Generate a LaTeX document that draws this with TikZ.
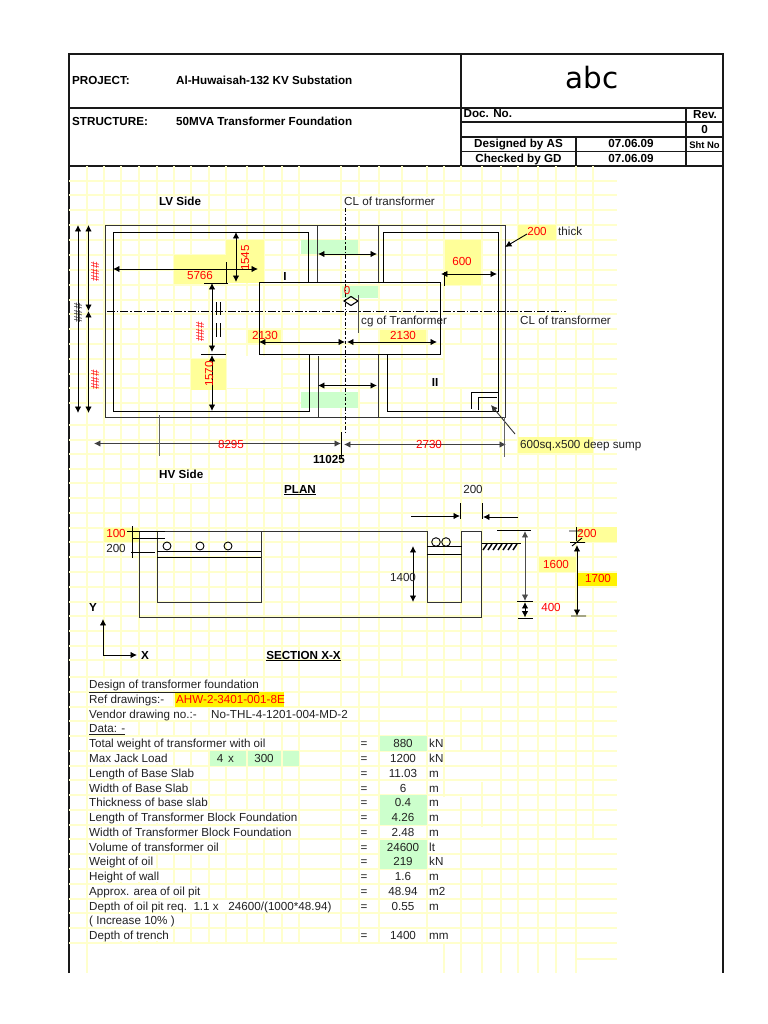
\documentclass[tikz,border=0pt]{standalone}
\usepackage{fontspec}
\setmainfont{Liberation Sans}
\usetikzlibrary{arrows.meta}
\newcommand{\fs}{\fontsize{11.7}{13}\selectfont}
\definecolor{gridy}{HTML}{FFFFCC}
\definecolor{ylw}{HTML}{FFFF99}
\definecolor{grn}{HTML}{CCFFCC}
\definecolor{txt}{HTML}{222222}
\tikzset{
 frame/.style={line width=1.4pt,draw=black!90},
 gridline/.style={line width=1.3pt,draw=gridy},
 wall/.style={line width=1pt,draw=black!80},
 thin wall/.style={line width=.9pt,draw=black},
 dim/.style={line width=.9pt,draw=black,{Latex[length=6.5pt,width=6.5pt]}-{Latex[length=6.5pt,width=6.5pt]}},
 dimend/.style={line width=.9pt,draw=black,-{Latex[length=6.5pt,width=6.5pt]}},
 tick/.style={line width=.9pt,draw=black},
 base/.style={inner sep=0pt,text height=8bp,text depth=0pt},
 t/.style={base,font=\fs,text=txt,anchor=west},
 tw/.style={t,fill=white,inner ysep=2bp},
 c/.style={base,font=\fs,text=txt},
 b/.style={base,font=\fs\bfseries,text=black},
 r/.style={base,font=\fs,text=red},
 hd/.style={base,font=\fs\bfseries,text=black,anchor=west},
}
\begin{document}
\begin{tikzpicture}[x=1bp,y=-1bp]
\useasboundingbox (0,0) rectangle (768,1024);
\fill[white] (0,0) rectangle (768,1024);
% frame
\draw[frame] (69,973) -- (69,54) -- (723,54) -- (723,973);
\draw[frame] (69,108) -- (723,108);
\draw[frame] (69,166) -- (723,166);
\draw[frame] (461,54) -- (461,166);
\draw[frame] (461,122) -- (723,122);
\draw[frame] (461,137) -- (723,137);
\draw[frame] (461,151.5) -- (723,151.5);
\draw[frame] (686,108) -- (686,166);
\draw[frame] (576,137) -- (576,166);
% grid upper
\foreach \x in {87,104,121,139,157,174,191,209,226,247,264,282,299,341,359,379,402,427,444,461,482,501,518,538,556,576,593}
 \draw[gridline] (\x,166) -- (\x,640);
\foreach \y in {181,195,210,225,240,255,270,285,300,314,329,344,359,374,388,403,425,440,454,469,483,498,513,528,542,557,572,587,602,616,631}
 \draw[gridline] (69,\y) -- (617,\y);
% grid lower
\foreach \x in {104,121,139,157,174,191,209,226,247,264,282,299,341,359,379,427}
 \draw[gridline] (\x,640) -- (\x,943);
\foreach \x in {87,501,518,538,556,576}
 \draw[gridline] (\x,640) -- (\x,973);
\draw[gridline] (402,640) -- (402,678);
\draw[gridline] (444,640) -- (444,797) (444,943) -- (444,973);
\draw[gridline] (461,640) -- (461,660) (461,680) -- (461,693) (461,708) -- (461,750) (461,797) -- (461,973);
\draw[gridline] (482,640) -- (482,693) (482,707) -- (482,750) (482,782) -- (482,827) (482,870) -- (482,973);
\draw[gridline] (593,640) -- (593,840);
\foreach \y in {646,660,677,692,707,721,736,751,766,780,795,810,825,839,854,869,884,899,913,928,943}
 \draw[gridline] (69,\y) -- (617,\y);
\draw[gridline] (576,959) -- (617,959);
% cells without grid
\foreach \a/\b/\c/\d in {158/196.5/208/209,342/196.5/440/209,360/315/448/328,519/315/612/328,158/470/208/482.5,227/356/281/388,445/345/481/387,192/241/225/254}
 \fill[white] (\a,\b) rectangle (\c,\d);
\foreach \a/\b/\c/\d in {174/255/226/284,226/240/264/283,445/240/481/285,191/359/226/390,248/330/281/343,380/330/426/343,518/225/556/240,518/437/593/453,539/557/576/572,577/527/617/542,104/528/139/542}
 \fill[ylw] (\a,\b) rectangle (\c,\d);
\fill[yellow] (578,573) rectangle (617,586);
\fill[yellow] (175,692) rectangle (284,707);
\foreach \a/\b/\c/\d in {301/240/358/254,301/392/358/408,342/286/378/298,380/736/427/751,210/751/246/766,248/751/281/766,283/751/299/766,380/795/427/810,380/810/427/825,380/840/427/854,380/854/427/869}
 \fill[grn] (\a,\b) rectangle (\c,\d);
% plan
\draw[wall] (105,225) rectangle (505,417);
\draw[thin wall] (113,411) -- (113,232) -- (308,232) -- (308,282);
\draw[thin wall] (309,354) -- (309,411) -- (113,411);
\draw[wall] (317,225) -- (317,282) (318,356) -- (318,417);
\draw[wall] (378,225) -- (378,282) (378,354) -- (378,417);
\draw[thin wall] (383,282) -- (383,232) -- (498,232) -- (498,411) -- (387,411) -- (387,354);
\draw[thin wall] (259,282) rectangle (440.5,354.5);
% sump
\draw[tick] (471,409) -- (471,392) -- (498,392);
\draw[tick] (478.5,410) -- (478.5,397) -- (497,397);
% centre lines
\draw[line width=.8pt,dash pattern=on 8pt off 2pt on 1.5pt off 2pt] (107,311.5) -- (566,311.5);
\draw[line width=.8pt,dash pattern=on 4pt off 2pt on 1.5pt off 2pt] (345.5,208) -- (345.5,432);
% left dims
\draw[dim] (78,225) -- (78,413);
\draw[dim] (88.5,225) -- (88.5,311);
\draw[dim] (88.5,311) -- (88.5,413);
% interior dims
\draw[dim] (113,269) -- (258,269);
\draw[tick] (226,262) -- (226,283);
\draw[dim] (236,232) -- (236,282);
\draw[dim] (318,254) -- (377,254);
\draw[dim] (318,385.5) -- (377,385.5);
\draw[dim] (441,274) -- (497,274);
\draw[tick] (444,272) -- (444,286);
\draw[dimend] (527,234) -- (505,247);
\draw[tick] (204,283) -- (228,283) (201,354.5) -- (226,354.5);
\draw[dim] (212,283) -- (212,352);
\draw[dim] (212,355) -- (212,411);
\draw[tick] (216,302) -- (216,315) (220,302) -- (220,315) (216,323) -- (216,337) (220,323) -- (220,337);
\draw[dim] (259,342) -- (345,342);
\draw[dim] (347,342) -- (437,342);
\draw[line width=1.1pt] (351,296.5) -- (358,301) -- (351,305.5) -- (344,301) -- cycle;
\draw[line width=1pt,draw=black!70] (358,295) -- (358,333);
\draw[dimend,draw=black!80] (515,434) -- (491,405);
% bottom dims
\draw[dim,draw=black!75] (94,443.5) -- (341,443.5);
\draw[dim,draw=black!75] (344,444.5) -- (506,444.5);
\draw[tick,draw=black!60] (159,415) -- (159,456);
\draw[tick] (341.7,432) -- (341.7,458);
\draw[tick,draw=black!60] (504,417) -- (504,457);
% section
\draw[wall] (139,531.5) -- (139,617.5) -- (481.7,617.5) -- (481.7,531.5) -- (461.7,531.5) -- (461.7,602.7) -- (427,602.7) -- (427,531.5) -- cycle;
\draw[wall] (157,531.5) -- (157,602.5) -- (261,602.5) -- (261,531.5);
\draw[tick] (157,551.5) -- (261,551.5) (157,557) -- (261,557);
\draw[tick] (427,546.5) -- (461.7,546.5) (427,554) -- (461.7,554);
\foreach \x in {167,200,228} \draw[tick] (\x,546) circle (4);
\foreach \x in {436,446} \draw[tick] (\x,542) circle (4.3);
\foreach \x in {483,488,...,513} \draw[line width=1.5pt] (\x,550) -- (\x+4,544);
\draw[tick] (482,543.5) -- (521,543.5);
\draw[tick] (460.7,503) -- (460.7,519) (482,503) -- (482,519);
\draw[dimend] (411,516) -- (460,516);
\draw[dimend] (518,517) -- (483,517);
\draw[dim] (413,546) -- (413,602);
\draw[tick] (497,530.5) -- (531,530.5) (517,601.5) -- (533,601.5) (518,618) -- (533,618);
\draw[dim,draw=black!70] (525,531) -- (525,601);
\draw[dim] (525,602) -- (525,617.5);
\draw[tick] (569,531) -- (582,531) (570,542.5) -- (585,542.5) (571,616) -- (586,616) (572,546) -- (582,538);
\draw[tick] (576,527) -- (576,541);
\draw[dim] (577,545) -- (577,616);
\draw[tick] (132,526) -- (132,558) (127,531.5) -- (165,531.5) (133,538) -- (165,538) (131,552) -- (155,552);
\draw[dim] (103,619) -- (103,655) -- (137,655);
% header text
\node[hd] (proj) at (72,80.5) {PROJECT:};
\node[hd] (projv) at (176,80.5) {Al-Huwaisah-132 KV Substation};
\node[hd] (str) at (72,121.5) {STRUCTURE:};
\node[hd] (strv) at (176,121.5) {50MVA Transformer Foundation};
\node[inner sep=0pt,font=\fontsize{29.5}{31}\selectfont\fontspec{DejaVu Sans}] (abc) at (592,78) {abc};
\node[hd] (doc) at (463.5,113.5) {Doc. No.};
\node[b] (rev) at (705,114.5) {Rev.};
\node[b] (rev0) at (704.5,129) {0};
\node[b] (des) at (518.5,143) {Designed by AS};
\node[b] (chk) at (518.5,158) {Checked by GD};
\node[b] (d1) at (631,143) {07.06.09};
\node[b] (d2) at (631,158) {07.06.09};
\node[b,font=\fontsize{9.5}{10}\selectfont\bfseries] (sht) at (704.5,144.5) {Sht No};
% plan text
\node[hd] (lv) at (159,201.5) {LV Side};
\node[t] (cl1) at (344,201.5) {CL of transformer};
\node[r] (n200a) at (537,231) {200};
\node[t] (thick) at (558,231) {thick};
\node[r] (n600) at (462,261) {600};
\node[r] (n5766) at (200,275) {5766};
\node[r,rotate=90] (n1545) at (245,258) {1545};
\node[b] (ione) at (285,276) {I};
\node[b] (iitwo) at (435,382) {II};
\node[r] (zero) at (347,290) {0};
\node[t] (cg) at (361,320) {cg of Tranformer};
\node[t] (cl2) at (520,320) {CL of transformer};
\node[r] (n2130a) at (265,335) {2130};
\node[r] (n2130b) at (403,335) {2130};
\node[r,rotate=90] (n1570) at (209,374) {1570};
\node[r,rotate=90] (h1) at (95,272) {\#\#\#};
\node[r,rotate=90] (h2) at (95,380) {\#\#\#};
\node[r,rotate=90] (h3) at (200,332) {\#\#\#};
\node[c,rotate=90] (h4) at (78,313) {\#\#\#};
\node[r] (n8295) at (231,444) {8295};
\node[r] (n2730) at (429,444) {2730};
\node[b] (n11025) at (329,459.5) {11025};
\node[t] (sump) at (520,444) {600sq.x500 deep sump};
\node[hd] (hv) at (159,474) {HV Side};
\node[b] (plan) at (300,489) {\underline{PLAN}};
\node[c] (n200b) at (473,489) {200};
% section text
\node[r] (n100) at (116,533) {100};
\node[c] (n200c) at (116,548) {200};
\node[c] (n1400) at (403,577) {1400};
\node[r] (n1600) at (556,564) {1600};
\node[r] (n400) at (551,607) {400};
\node[r] (n200d) at (587,533) {200};
\node[r] (n1700) at (598,578) {1700};
\node[b] (yax) at (93,607) {Y};
\node[b] (xax) at (145,655) {X};
\node[b] (sec) at (303.5,655) {\underline{SECTION X-X}};
% table
\node[tw] (t0) at (89,684) {\underline{Design of transformer foundation}};
\node[tw] (t1) at (89,699) {Ref drawings:-};
\node[t,text=red] (t1b) at (176,699) {AHW-2-3401-001-8E};
\node[tw] (t2) at (89,714) {Vendor drawing no.:-};
\node[tw] (t2b) at (211,714) {No-THL-4-1201-004-MD-2};
\node[tw] (t3) at (89,728.5) {\underline{Data: -}};
\foreach \n/\y/\l/\v/\u in {
 a/743/{Total weight of transformer with oil}/880/kN,
 b/758/{Max Jack Load}/1200/kN,
 c/773/{Length of Base Slab}/11.03/m,
 d/788/{Width of Base Slab}/6/m,
 e/802/{Thickness of base slab}/0.4/m,
 f/817/{Length of Transformer Block Foundation}/4.26/m,
 g/832/{Width of Transformer Block Foundation}/2.48/m,
 h/847/{Volume of transformer oil}/24600/lt,
 i/861/{Weight of oil}/219/kN,
 j/876/{Height of wall}/1.6/m,
 k/891/{Approx. area of oil pit}/48.94/m2,
 l/906/{Depth of oil pit req.\ \ 1.1 x\ \ \ 24600/(1000*48.94)}/0.55/m,
 m/935/{Depth of trench}/1400/mm}{
 \node[tw] (l\n) at (89,\y) {\l};
 \node[c] (e\n) at (364,\y) {=};
 \node[c] (v\n) at (403,\y) {\v};
 \node[t] (u\n) at (429,\y) {\u};
}
\node[tw] (tinc) at (89,920) {( Increase 10\% )};
\node[c] (jk1) at (220,758) {4};
\node[c] (jk2) at (231,758) {x};
\node[c] (jk3) at (264,758) {300};
\end{tikzpicture}
\end{document}
